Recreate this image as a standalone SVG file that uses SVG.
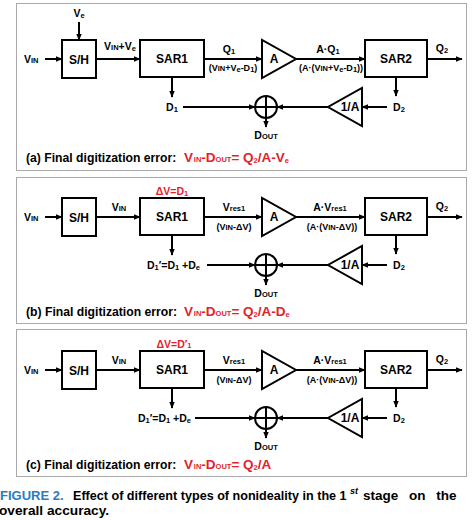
<svg xmlns="http://www.w3.org/2000/svg" width="474" height="520" viewBox="0 0 474 520">
<defs>
<style>
.t{font-family:"Liberation Sans",Arial,sans-serif;font-weight:bold;font-size:10.5px;fill:#000}
.b{font-size:12px}
.c{font-size:13.5px}
.cb{font-size:12.2px}
.s{font-size:7.5px}
.red{fill:#e3222b}
.box{fill:#fff;stroke:#000;stroke-width:2}
.ln{stroke:#000;stroke-width:2;fill:none}
.ar{stroke:#000;stroke-width:2;fill:none;marker-end:url(#ah)}
.bd{fill:none;stroke:#555;stroke-width:1;stroke-dasharray:1 1}
.m{text-anchor:middle}
.sm{font-size:9px}
</style>
<marker id="ah" viewBox="0 0 10 10" refX="9" refY="5" markerWidth="7" markerHeight="7" markerUnits="userSpaceOnUse" orient="auto"><path d="M0,1 L10,5 L0,9 z" fill="#000"/></marker>
</defs>
<rect width="474" height="520" fill="#fff"/>

<!-- Panel (a) -->
<g id="panel-a">
<rect class="bd" x="16.5" y="3.5" width="450" height="167"/>
<g id="a-connectors">
<line class="ar" x1="45" y1="59" x2="62" y2="59"/>
<line class="ar" x1="79" y1="22" x2="79" y2="40"/>
<line class="ar" x1="96" y1="59" x2="140" y2="59"/>
<line class="ar" x1="204" y1="59" x2="262" y2="59"/>
<line class="ar" x1="296" y1="59" x2="365" y2="59"/>
<line class="ar" x1="427" y1="59" x2="462" y2="59"/>
<line class="ar" x1="172" y1="77" x2="172" y2="97"/>
<line class="ar" x1="396" y1="77" x2="396" y2="96"/>
<line class="ar" x1="387" y1="107" x2="362" y2="107"/>
<line class="ar" x1="328" y1="107" x2="277" y2="107"/>
<line class="ar" x1="183" y1="107" x2="255" y2="107"/>
<line class="ar" x1="266" y1="118" x2="266" y2="127"/>
</g>
<g id="a-vin"><text class="t" x="24" y="63">V<tspan class="s">IN</tspan></text></g>
<g id="a-ve"><text class="t m" x="79" y="17">V<tspan class="s" dy="1">e</tspan></text></g>
<g id="a-sh"><rect class="box" x="62" y="40" width="34" height="38"/><text class="t b m" x="79" y="64">S/H</text></g>
<text class="t m" x="120" y="50">V<tspan class="s">IN</tspan>+V<tspan class="s" dy="1">e</tspan></text>
<g id="a-sar1"><rect class="box" x="140" y="40" width="64" height="37"/><text class="t b m" x="172" y="63">SAR1</text></g>
<text class="t m" x="229" y="53">Q<tspan class="s" dy="1">1</tspan></text>
<text class="t m sm" x="233" y="71">(V<tspan class="s">IN</tspan>+V<tspan class="s" dy="1">e</tspan><tspan dy="-1">-D</tspan><tspan class="s" dy="1">1</tspan><tspan dy="-1">)</tspan></text>
<g id="a-amp"><polygon class="box" points="262,40 262,78 296,59"/><text class="t b m" x="274" y="63">A</text></g>
<text class="t m" x="328" y="53">A·Q<tspan class="s" dy="1">1</tspan></text>
<text class="t m sm" x="331" y="71">(A·(V<tspan class="s">IN</tspan>+V<tspan class="s" dy="1">e</tspan><tspan dy="-1">-D</tspan><tspan class="s" dy="1">1</tspan><tspan dy="-1">))</tspan></text>
<g id="a-sar2"><rect class="box" x="365" y="40" width="62" height="37"/><text class="t b m" x="396" y="63">SAR2</text></g>
<text class="t m" x="442" y="52">Q<tspan class="s" dy="1">2</tspan></text>
<text class="t m" x="172" y="111">D<tspan class="s" dy="1">1</tspan></text>
<text class="t m" x="399" y="111">D<tspan class="s" dy="1">2</tspan></text>
<g id="a-inv"><polygon class="box" points="362,88 362,126 328,107"/><text class="t b m" x="350" y="111">1/A</text></g>
<g id="a-sum"><circle class="box" cx="266" cy="107" r="11"/><line class="ln" x1="255" y1="107" x2="277" y2="107"/><line class="ln" x1="266" y1="96" x2="266" y2="118"/></g>
<text class="t m" x="266" y="139">D<tspan class="s">OUT</tspan></text>
<text class="t cb" x="26" y="162">(a) Final digitization error:</text>
<text class="t c red" x="184" y="162">V<tspan class="s" dx="0.8">IN</tspan>-D<tspan class="s">OUT</tspan>= Q<tspan class="s" dy="1">2</tspan><tspan dy="-1">/A-V</tspan><tspan class="s" dy="1">e</tspan></text>
</g>

<!-- Panel (b) -->
<g id="panel-b" transform="translate(0,158)">
<rect class="bd" x="16.5" y="19.5" width="450" height="146"/>
<g id="b-connectors">
<line class="ar" x1="45" y1="59" x2="62" y2="59"/>
<line class="ar" x1="96" y1="59" x2="140" y2="59"/>
<line class="ar" x1="204" y1="59" x2="262" y2="59"/>
<line class="ar" x1="296" y1="59" x2="365" y2="59"/>
<line class="ar" x1="427" y1="59" x2="462" y2="59"/>
<line class="ar" x1="172" y1="77" x2="172" y2="97"/>
<line class="ar" x1="396" y1="77" x2="396" y2="96"/>
<line class="ar" x1="387" y1="107" x2="362" y2="107"/>
<line class="ar" x1="328" y1="107" x2="277" y2="107"/>
<line class="ar" x1="207" y1="107" x2="255" y2="107"/>
<line class="ar" x1="266" y1="118" x2="266" y2="127"/>
</g>
<g id="b-vin"><text class="t" x="24" y="63">V<tspan class="s">IN</tspan></text></g>
<g id="b-sh"><rect class="box" x="62" y="40" width="34" height="38"/><text class="t b m" x="79" y="64">S/H</text></g>
<text class="t m" x="119" y="53">V<tspan class="s">IN</tspan></text>
<text class="t m red" x="172" y="37">ΔV=D<tspan class="s" dy="1">1</tspan></text>
<g id="b-sar1"><rect class="box" x="140" y="40" width="64" height="37"/><text class="t b m" x="172" y="63">SAR1</text></g>
<text class="t m" x="234" y="53">V<tspan class="s">res1</tspan></text>
<text class="t m sm" x="234" y="72">(V<tspan class="s">IN</tspan>-ΔV)</text>
<g id="b-amp"><polygon class="box" points="262,40 262,78 296,59"/><text class="t b m" x="274" y="63">A</text></g>
<text class="t m" x="330" y="53">A·V<tspan class="s">res1</tspan></text>
<text class="t m sm" x="332" y="72">(A·(V<tspan class="s">IN</tspan>-ΔV))</text>
<g id="b-sar2"><rect class="box" x="365" y="40" width="62" height="37"/><text class="t b m" x="396" y="63">SAR2</text></g>
<text class="t m" x="442" y="52">Q<tspan class="s" dy="1">2</tspan></text>
<text class="t" x="147" y="111">D<tspan class="s" dy="1">1</tspan><tspan dy="-1">′=D</tspan><tspan class="s" dy="1">1</tspan><tspan dy="-1"> +D</tspan><tspan class="s" dy="1">e</tspan></text>
<text class="t m" x="399" y="111">D<tspan class="s" dy="1">2</tspan></text>
<g id="b-inv"><polygon class="box" points="362,88 362,126 328,107"/><text class="t b m" x="350" y="111">1/A</text></g>
<g id="b-sum"><circle class="box" cx="266" cy="107" r="11"/><line class="ln" x1="255" y1="107" x2="277" y2="107"/><line class="ln" x1="266" y1="96" x2="266" y2="118"/></g>
<text class="t m" x="266" y="139">D<tspan class="s">OUT</tspan></text>
<text class="t cb" x="26" y="158">(b) Final digitization error:</text>
<text class="t c red" x="184" y="158">V<tspan class="s" dx="0.8">IN</tspan>-D<tspan class="s">OUT</tspan>= Q<tspan class="s" dy="1">2</tspan><tspan dy="-1">/A-D</tspan><tspan class="s" dy="1">e</tspan></text>
</g>

<!-- Panel (c) -->
<g id="panel-c" transform="translate(0,311)">
<rect class="bd" x="16.5" y="18.5" width="450" height="147"/>
<g id="c-connectors">
<line class="ar" x1="45" y1="59" x2="62" y2="59"/>
<line class="ar" x1="96" y1="59" x2="140" y2="59"/>
<line class="ar" x1="204" y1="59" x2="262" y2="59"/>
<line class="ar" x1="296" y1="59" x2="365" y2="59"/>
<line class="ar" x1="427" y1="59" x2="462" y2="59"/>
<line class="ar" x1="172" y1="77" x2="172" y2="97"/>
<line class="ar" x1="396" y1="77" x2="396" y2="96"/>
<line class="ar" x1="387" y1="107" x2="362" y2="107"/>
<line class="ar" x1="328" y1="107" x2="277" y2="107"/>
<line class="ar" x1="195" y1="107" x2="255" y2="107"/>
<line class="ar" x1="266" y1="118" x2="266" y2="127"/>
</g>
<g id="c-vin"><text class="t" x="24" y="63">V<tspan class="s">IN</tspan></text></g>
<g id="c-sh"><rect class="box" x="62" y="40" width="34" height="38"/><text class="t b m" x="79" y="64">S/H</text></g>
<text class="t m" x="119" y="53">V<tspan class="s">IN</tspan></text>
<text class="t m red" x="174" y="37">ΔV=D′<tspan class="s">1</tspan></text>
<g id="c-sar1"><rect class="box" x="140" y="40" width="64" height="37"/><text class="t b m" x="172" y="63">SAR1</text></g>
<text class="t m" x="234" y="53">V<tspan class="s">res1</tspan></text>
<text class="t m sm" x="234" y="72">(V<tspan class="s">IN</tspan>-ΔV)</text>
<g id="c-amp"><polygon class="box" points="262,40 262,78 296,59"/><text class="t b m" x="274" y="63">A</text></g>
<text class="t m" x="330" y="53">A·V<tspan class="s">res1</tspan></text>
<text class="t m sm" x="332" y="72">(A·(V<tspan class="s">IN</tspan>-ΔV))</text>
<g id="c-sar2"><rect class="box" x="365" y="40" width="62" height="37"/><text class="t b m" x="396" y="63">SAR2</text></g>
<text class="t m" x="442" y="52">Q<tspan class="s" dy="1">2</tspan></text>
<text class="t" x="138" y="111">D<tspan class="s" dy="1">1</tspan><tspan dy="-1">′=D</tspan><tspan class="s" dy="1">1</tspan><tspan dy="-1"> +D</tspan><tspan class="s" dy="1">e</tspan></text>
<text class="t m" x="399" y="111">D<tspan class="s" dy="1">2</tspan></text>
<g id="c-inv"><polygon class="box" points="362,88 362,126 328,107"/><text class="t b m" x="350" y="111">1/A</text></g>
<g id="c-sum"><circle class="box" cx="266" cy="107" r="11"/><line class="ln" x1="255" y1="107" x2="277" y2="107"/><line class="ln" x1="266" y1="96" x2="266" y2="118"/></g>
<text class="t m" x="266" y="139">D<tspan class="s">OUT</tspan></text>
<text class="t cb" x="26" y="158">(c) Final digitization error:</text>
<text class="t c red" x="184" y="158">V<tspan class="s" dx="0.8">IN</tspan>-D<tspan class="s">OUT</tspan>= Q<tspan class="s" dy="1">2</tspan><tspan dy="-1">/A</tspan></text>
</g>

<!-- Figure caption -->
<g id="caption">
<text class="t" x="0" y="500" style="font-size:13px;fill:#2b7cc0">FIGURE 2.</text>
<text class="t" x="73" y="500" style="font-size:12.6px">Effect of different types of nonideality in the 1</text>
<text class="t" x="350" y="494" style="font-size:9px;font-style:italic">st</text>
<text class="t" x="363" y="500" style="font-size:13.5px;word-spacing:7px">stage on the</text>
<text class="t" x="-1" y="515" style="font-size:13.7px">overall accuracy.</text>
</g>
</svg>
